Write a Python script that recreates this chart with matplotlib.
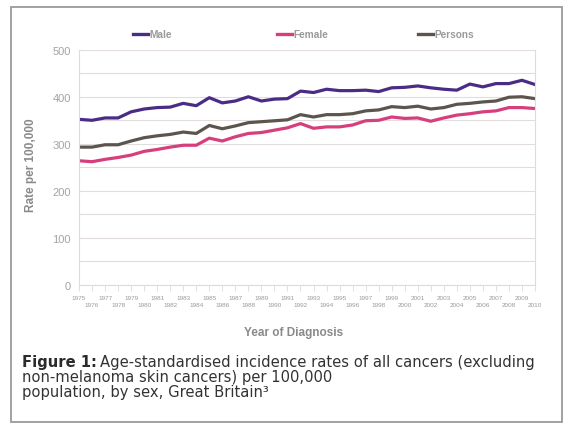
import matplotlib
matplotlib.use("Agg")
import matplotlib.pyplot as plt
from matplotlib.lines import Line2D
from matplotlib.patches import Rectangle

years = list(range(1975, 2011))
male = [352, 350, 355, 355, 368, 374, 377, 378, 386, 381, 398, 387, 391,
        400, 391, 395, 396, 412, 409, 416, 413, 413, 414, 411,
        419, 420, 423, 419, 416, 414, 427, 421, 428, 428, 435, 426]
female = [264, 262, 267, 271, 276, 284, 288, 293, 297, 297, 312, 306, 315,
          322, 324, 329, 334, 343, 333, 336, 336, 340, 349, 350,
          357, 354, 355, 348, 355, 361, 364, 368, 370, 377, 377, 375]
persons = [293, 293, 298, 298, 306, 313, 317, 320, 325, 322, 339, 332, 338,
           345, 347, 349, 351, 362, 357, 362, 362, 364, 370, 372,
           379, 377, 380, 374, 377, 384, 386, 389, 391, 399, 400, 396]
series_names = ["Male", "Female", "Persons"]
colors = ["#4a2c86", "#d63f7c", "#5b554d"]

W, H = 571, 435
fig = plt.figure(figsize=(W / 100, H / 100), dpi=100)

# outer frame
fig.patches.append(Rectangle((11 / W, 1 - 423 / H), 551 / W, 415 / H,
                             transform=fig.transFigure, fill=False,
                             edgecolor="#9a9a9a", lw=1.3))

ax = fig.add_axes([79 / W, 1 - 286 / H, 456 / W, 235.3 / H])
for ys, c in zip([male, female, persons], colors):
    ax.plot(years, ys, color=c, lw=2.3, solid_joinstyle="round")

ax.set_xlim(1975, 2010)
ax.set_ylim(0, 500)
ax.set_yticks(range(0, 501, 100))
ax.set_yticks(range(50, 500, 100), minor=True)
ax.grid(axis="y", which="both", color="#e2dcdc", lw=0.8)
ax.set_axisbelow(True)
ax.tick_params(axis="y", which="both", length=0, labelsize=8,
               labelcolor="#a3a3a3", pad=6)
for lab in ax.get_yticklabels():
    lab.set_family("Liberation Sans")

ax.set_xticks(years)
ax.set_xticklabels([str(y) if i % 2 == 0 else "\n" + str(y)
                    for i, y in enumerate(years)],
                   fontsize=4.6, color="#9a9a9a", family="Liberation Sans",
                   linespacing=1.45)
ax.tick_params(axis="x", length=4, color="#dcdcdc", width=0.6, pad=3)

ax.spines["top"].set_visible(False)
for side in ["left", "right", "bottom"]:
    ax.spines[side].set_color("#dcdcdc")
    ax.spines[side].set_linewidth(0.8)

fig.text(31 / W, 1 - 165 / H, "Rate per 100,000", rotation=90, ha="center",
         va="center", fontsize=8.5, fontweight="bold", color="#8a8a8a",
         family="Liberation Sans")
fig.text(294 / W, 1 - 333 / H, "Year of Diagnosis", ha="center", va="center",
         fontsize=8.5, fontweight="bold", color="#8a8a8a",
         family="Liberation Sans")

# legend
for name, c, x0 in zip(series_names, colors, [133, 277, 418]):
    fig.lines.append(Line2D([x0 / W, (x0 + 15) / W], [1 - 35 / H] * 2,
                            transform=fig.transFigure, color=c, lw=2.4))
    fig.text((x0 + 16) / W, 1 - 35 / H, name, ha="left", va="center",
             fontsize=7.3, fontweight="bold", color="#9a9a9a",
             family="Liberation Sans")

# caption, sized so the first line spans roughly the original width
cap_lines = ["Age-standardised incidence rates of all cancers (excluding",
             "non-melanoma skin cancers) per 100,000",
             "population, by sex, Great Britain\u00b3"]
cap_y = [363, 377.7, 392.3]
cap_font = "DejaVu Sans"
r = fig.canvas.get_renderer()
probe_b = fig.text(0, 0, "Figure 1:", fontsize=10, fontweight="bold",
                   family=cap_font)
probe_r = fig.text(0, 0, cap_lines[0], fontsize=10, family=cap_font)
w10 = (probe_b.get_window_extent(renderer=r).width
       + probe_r.get_window_extent(renderer=r).width + 3)
probe_b.remove()
probe_r.remove()
cap_size = 10 * 510 / w10

t = fig.text(22 / W, 1 - cap_y[0] / H, "Figure 1:", ha="left", va="center",
             fontsize=cap_size, fontweight="bold", color="#2b2b2b",
             family=cap_font)
bw = t.get_window_extent(renderer=r).width
fig.text((22 + bw + 3) / W, 1 - cap_y[0] / H, cap_lines[0],
         ha="left", va="center", fontsize=cap_size, color="#333333",
         family=cap_font)
for line, y in zip(cap_lines[1:], cap_y[1:]):
    fig.text(22 / W, 1 - y / H, line, ha="left", va="center",
             fontsize=cap_size, color="#333333", family=cap_font)

fig.savefig("out.png", dpi=100)
